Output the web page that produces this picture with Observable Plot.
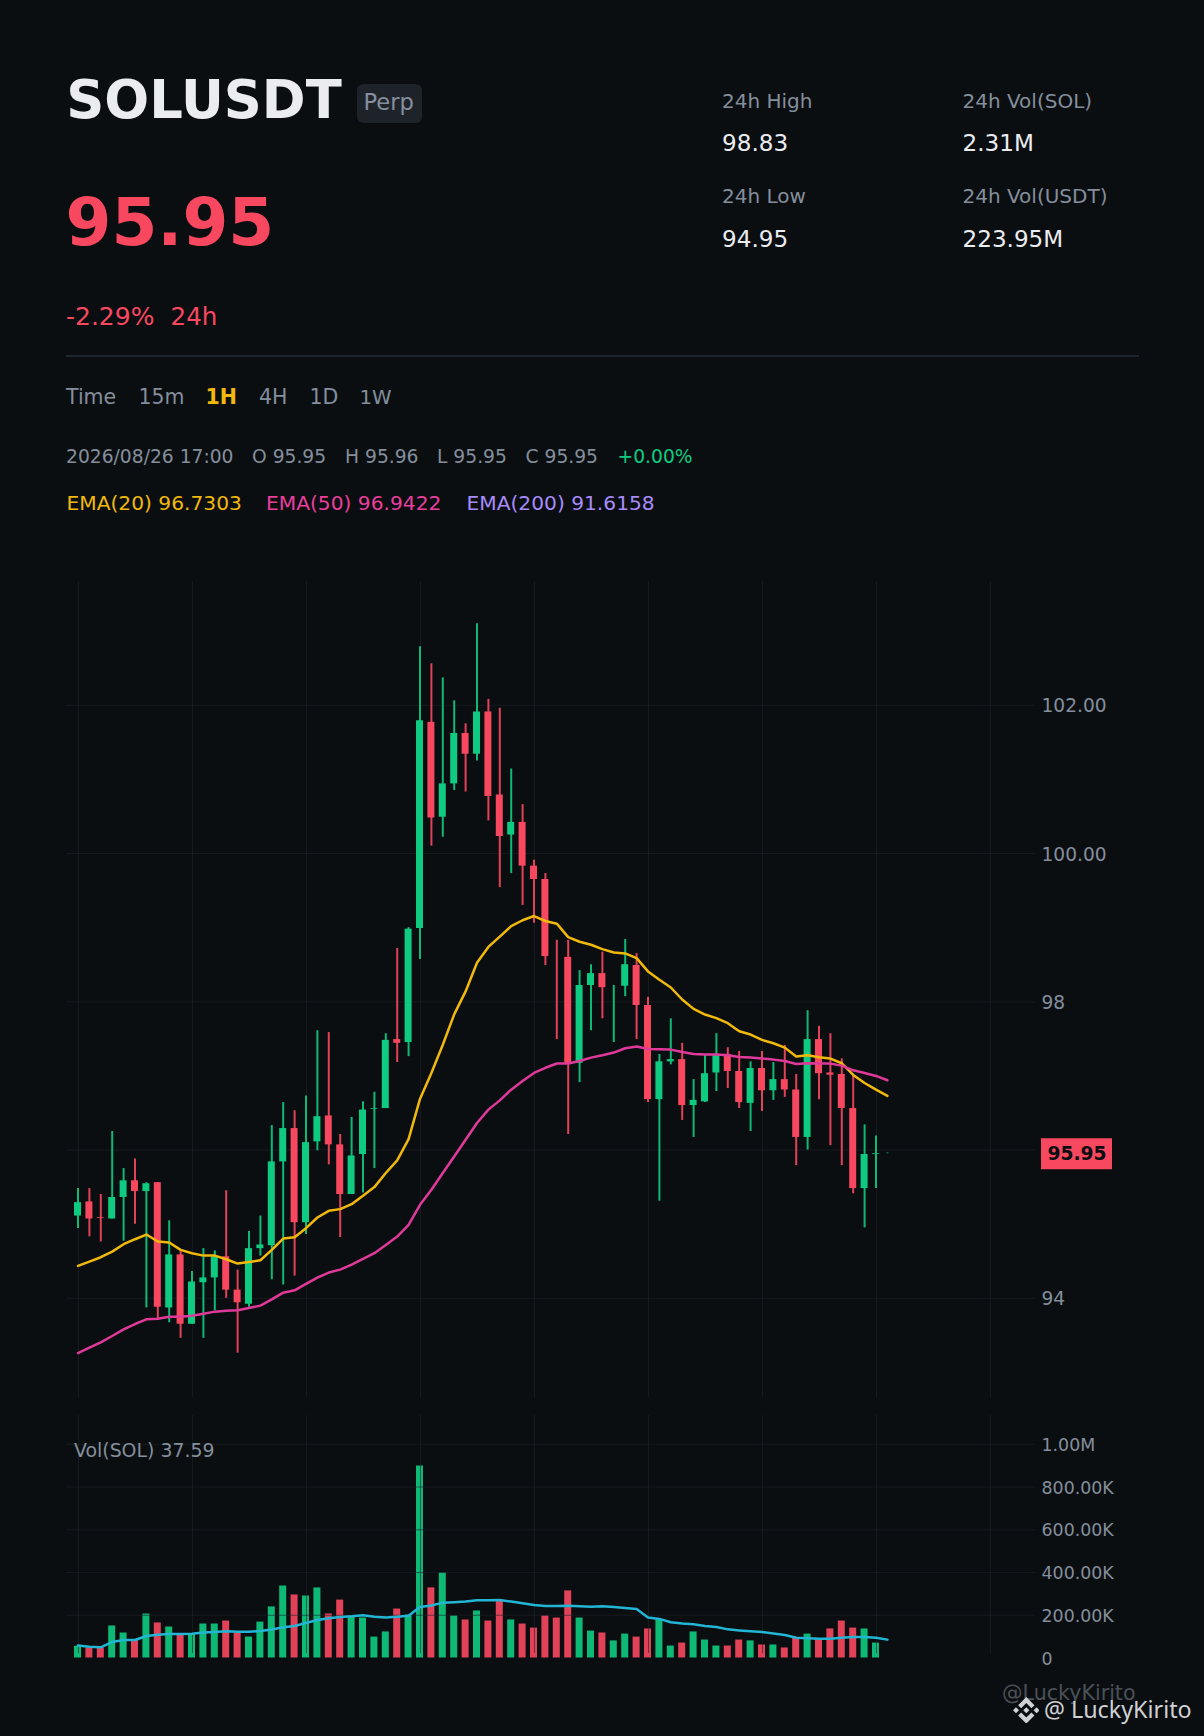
<!DOCTYPE html>
<html><head><meta charset="utf-8">
<script src="https://cdn.jsdelivr.net/npm/d3@7"></script>
<script src="https://cdn.jsdelivr.net/npm/@observablehq/plot@0.6"></script>
<style>
html,body{margin:0;padding:0;background:#0b0e11;}
#page{position:relative;width:1204px;height:1736px;overflow:hidden;background:#0b0e11;font-family:"DejaVu Sans",sans-serif;}
#page .t{position:absolute;white-space:pre;line-height:normal;}
</style></head><body><div id="page"></div>
<script>
const open=[95.11,95.30,95.09,95.07,95.36,95.585,95.44,95.56,93.87,94.585,93.65,94.21,94.275,94.56,94.11,93.92,94.67,94.71,95.84,96.29,95.02,96.11,96.46,96.07,95.40,95.94,96.55,96.56,97.49,97.45,98.99,101.77,100.49,100.94,101.62,101.34,101.91,100.79,100.25,100.42,99.83,99.65,98.61,98.60,97.17,98.22,98.38,98.20,98.21,98.49,97.95,96.68,97.19,97.22,96.60,96.65,97.04,97.29,97.06,96.63,97.10,96.80,96.95,96.81,96.17,97.49,97.04,97.02,96.56,95.48,95.94,95.95];
const close=[95.29,95.07,95.08,95.36,95.585,95.44,95.545,93.88,94.585,93.65,94.22,94.275,94.56,94.11,93.94,94.67,94.72,95.84,96.29,95.02,96.10,96.45,96.07,95.40,95.92,96.54,96.56,97.48,97.44,98.98,101.79,100.48,100.94,101.62,101.34,101.91,100.77,100.23,100.42,99.83,99.65,98.61,98.61,97.17,98.22,98.38,98.19,98.20,98.50,97.95,96.68,97.19,97.22,96.60,96.67,97.03,97.29,97.06,96.64,97.10,96.80,96.95,96.81,96.17,97.49,97.03,97.01,96.56,95.48,95.94,95.95,95.95];
const high=[95.48,95.48,95.40,96.25,95.75,95.88,95.56,95.56,95.045,94.63,94.36,94.67,94.64,95.45,94.38,94.90,95.11,96.33,96.64,96.53,96.73,97.61,97.585,96.21,96.44,96.65,96.78,97.57,98.72,99.00,102.79,102.56,102.37,102.06,101.75,103.10,102.08,101.96,101.14,100.66,99.91,99.73,98.83,98.83,98.42,98.50,98.67,98.22,98.84,98.65,98.06,97.29,97.77,97.44,96.95,97.29,97.57,97.38,97.33,97.19,97.33,97.18,97.41,97.02,97.88,97.67,97.57,97.23,97.00,96.34,96.19,95.96];
const low=[94.94,94.83,94.76,95.07,94.77,95.00,93.87,93.71,93.67,93.46,93.65,93.46,93.83,94.00,93.26,93.88,94.57,94.25,94.18,94.30,94.86,95.99,95.80,94.82,95.40,95.42,95.75,96.56,97.18,97.26,98.57,100.10,100.22,100.85,100.83,101.25,100.44,99.54,99.73,99.30,99.06,98.49,97.49,96.21,96.91,97.61,97.77,97.45,98.07,97.49,96.64,95.31,97.15,96.40,96.17,96.64,96.79,96.83,96.56,96.25,96.52,96.67,96.71,95.79,96.00,96.68,96.06,95.79,95.41,94.95,95.48,95.95];
const up=[1,0,0,1,1,0,1,0,1,0,1,1,1,0,0,1,1,1,1,0,1,1,0,0,1,1,1,1,0,1,1,0,1,1,0,1,0,0,1,0,0,0,0,0,1,1,0,1,1,0,0,1,1,0,1,1,1,0,0,1,0,1,0,0,1,0,0,0,0,1,1,1];
const ema20=[94.437,94.495,94.554,94.63,94.73,94.797,94.86,94.766,94.752,94.653,94.608,94.576,94.576,94.527,94.468,94.491,94.513,94.653,94.806,94.824,94.946,95.09,95.18,95.203,95.27,95.383,95.50,95.69,95.86,96.148,96.69,97.04,97.42,97.83,98.14,98.527,98.74,98.88,99.02,99.10,99.157,99.09,99.054,98.873,98.81,98.77,98.711,98.666,98.653,98.59,98.41,98.297,98.193,98.031,97.905,97.828,97.779,97.711,97.603,97.558,97.486,97.441,97.382,97.261,97.279,97.252,97.234,97.171,97.013,96.905,96.815,96.7303];
const ema50=[93.261,93.333,93.405,93.491,93.581,93.653,93.716,93.725,93.752,93.752,93.766,93.793,93.82,93.833,93.838,93.869,93.901,93.986,94.076,94.108,94.194,94.279,94.347,94.387,94.455,94.531,94.608,94.72,94.833,94.991,95.261,95.464,95.69,95.914,96.14,96.365,96.545,96.67,96.815,96.93,97.04,97.11,97.167,97.167,97.202,97.247,97.279,97.315,97.373,97.396,97.364,97.36,97.355,97.324,97.297,97.288,97.288,97.279,97.256,97.247,97.234,97.22,97.202,97.162,97.171,97.166,97.166,97.139,97.076,97.04,97.0,96.9422];
const volume=[55000,47000,47000,150000,117000,84000,206000,164000,145000,108000,112000,159000,159000,173000,117000,98000,168000,239000,337000,295000,290000,328000,206000,271000,197000,187000,98000,122000,229000,201000,899000,328000,398000,197000,178000,220000,173000,271000,178000,159000,140000,197000,187000,314000,187000,126000,117000,80000,112000,98000,136000,178000,56000,70000,122000,84000,56000,56000,84000,80000,61000,61000,47000,94000,112000,87000,136000,173000,140000,136000,70000,37.59];
const volMA=[58000,53000,50000,75000,84000,84000,103000,109000,112000,112000,114000,119000,122000,125000,123000,123000,126000,133000,144000,150000,164000,178000,186000,192000,195000,200000,193000,190000,193000,198000,239000,246000,259000,261000,264000,270000,270000,271000,264000,256000,248000,243000,243000,245000,242000,240000,242000,239000,234000,229000,190000,183000,167000,161000,158000,150000,145000,134000,129000,125000,122000,115000,108000,95000,92000,90000,90000,95000,98000,98000,95000,86000];
const timeGrid=[0,10,20,30,40,50,60,70,80];
const priceGrid=[94,96,98,100,102];
const priceTicks=[102,100,98,94];
const priceTickLabels=["102.00","100.00","98","94"];
const volTicks=[1000000,800000,600000,400000,200000,0];
const volTickLabels=["1.00M","800.00K","600.00K","400.00K","200.00K","0"];
const lastPrice=95.95;
const lastLabel="95.95";

const GREEN="#0ecb81",RED="#f84860",GRID="#1e2329",AXIS="#848e9c",FONT='"DejaVu Sans",sans-serif';
const candles=open.map((o,i)=>({i,o,c:close[i],h:high[i],l:low[i],up:up[i],v:volume[i],e20:ema20[i],e50:ema50[i],ma:volMA[i]}));
const col=d=>d.up?GREEN:RED;
const xDomain=[0,71], xRange=[77.5,77.5+11.4*71];
const gridX=()=>Plot.ruleX(timeGrid,{x:d=>d,stroke:GRID,strokeOpacity:.6,dx:.5});
const gridY=(vals)=>Plot.ruleY(vals,{y:d=>d,stroke:GRID,strokeOpacity:.6,insetLeft:66,insetRight:169});

// price panel
const priceTop=560;
const pricePlot=Plot.plot({
  width:1204,height:850,marginLeft:0,marginRight:0,marginTop:21,marginBottom:13,
  style:{background:"none",fontFamily:FONT},
  x:{domain:xDomain,range:xRange,axis:null},
  y:{domain:[94,102],range:[1298.3-priceTop-.5,705.3-priceTop-.5],axis:null},
  marks:[
    gridX(),gridY(priceGrid),
    Plot.ruleX(candles,{x:"i",y1:"l",y2:"h",stroke:col,strokeWidth:2,strokeOpacity:.9}),
    Plot.ruleX(candles,{x:"i",y1:"o",y2:"c",stroke:col,strokeWidth:7,dx:-.5}),
    Plot.line(candles,{x:"i",y:"e20",stroke:"#f0b90b",strokeWidth:2.5}),
    Plot.line(candles,{x:"i",y:"e50",stroke:"#e0399a",strokeWidth:2.5}),
    Plot.text(priceTicks,{y:d=>d,text:(d,i)=>priceTickLabels[i],frameAnchor:"left",dx:1041,dy:1,textAnchor:"start",fill:AXIS,fontSize:18.6}),
    Plot.ruleY([lastPrice],{y:d=>d,stroke:RED,strokeWidth:31,insetLeft:1041,insetRight:92}),
    Plot.text([lastPrice],{y:d=>d,text:()=>lastLabel,frameAnchor:"left",dx:1076.5,textAnchor:"middle",fill:"#0b0e11",fontSize:18.7,fontWeight:"bold"})
  ]
});

// volume panel
const volTop=1395;
const volPlot=Plot.plot({
  width:1204,height:280,marginLeft:0,marginRight:0,marginTop:20,marginBottom:22,
  style:{background:"none",fontFamily:FONT},
  x:{domain:xDomain,range:xRange,axis:null},
  y:{domain:[0,1000000],range:[1658-volTop-.5,1444.3-volTop-.5],axis:null},
  marks:[
    Plot.ruleX(candles,{x:"i",y1:0,y2:"v",stroke:col,strokeWidth:7,strokeOpacity:.9,dx:-.5}),
    gridX(),gridY(volTicks.filter(d=>d>0)),
    Plot.line(candles,{x:"i",y:"ma",stroke:"#22b5d4",strokeWidth:2.5}),
    Plot.text(volTicks,{y:d=>d,text:(d,i)=>volTickLabels[i],frameAnchor:"left",dx:1041,dy:1,textAnchor:"start",fill:AXIS,fontSize:17.4})
  ]
});

const page=document.getElementById("page");
[[pricePlot,priceTop],[volPlot,volTop]].forEach(([p,top])=>{
  p.style.position="absolute";p.style.left="0px";p.style.top=top+"px";
  page.append(p);
});

// text, placed by baseline
function label(text,x,base,size,color,opts={}){
  const d=document.createElement("div");
  d.className="t";d.textContent=text;
  d.style.left=x+"px";
  d.style.top=(base-.928*size)+"px";
  d.style.fontSize=size+"px";
  d.style.color=color;
  if(opts.weight)d.style.fontWeight=opts.weight;
  if(opts.family){d.style.fontFamily=opts.family;d.style.top=(base-(opts.asc||.928)*size)+"px";}
  page.append(d);
}
const WHITE="#eaecef";
label("SOLUSDT",66.3,118.3,52.8,WHITE,{weight:"bold"});
const badge=document.createElement("div");
badge.style.cssText="position:absolute;left:356.7px;top:84.3px;width:65.6px;height:38.4px;background:#1e2329;border-radius:6px;";
page.append(badge);
label("Perp",363.5,110,22.6,AXIS);
label("95.95",65.5,245.5,66,RED,{weight:"bold"});
label("-2.29%",66,325,25,RED);
label("24h",170.5,325,24.6,RED);
label("24h High",722,107.3,20,AXIS);
label("98.83",722,151,23.1,WHITE);
label("24h Low",722,202.7,20,AXIS);
label("94.95",722,247,23.1,WHITE);
label("24h Vol(SOL)",962.5,107.3,20,AXIS);
label("2.31M",962.5,151,23.1,WHITE);
label("24h Vol(USDT)",962.5,202.7,20,AXIS);
label("223.95M",962.5,247,23.1,WHITE);
const rule=document.createElement("div");
rule.style.cssText="position:absolute;left:65.5px;top:355px;width:1073.5px;height:1.5px;background:#1e2330;";
page.append(rule);
label("Time",66,404,20.5,AXIS);
label("15m",138.5,404,20.5,AXIS);
label("1H",205.5,404,20.5,"#f0b90b",{weight:"bold"});
label("4H",259,404,20.5,AXIS);
label("1D",309.5,404,20.5,AXIS);
label("1W",359.5,404,19.8,AXIS);
label("2026/08/26 17:00",66,463,18.7,AXIS);
label("O 95.95",252,463,18.7,AXIS);
label("H 95.96",345,463,18.7,AXIS);
label("L 95.95",437,463,18.7,AXIS);
label("C 95.95",525.5,463,18.7,AXIS);
label("+0.00%",617.5,463,18.7,GREEN);
label("EMA(20) 96.7303",66.5,510,20.2,"#f0b90b");
label("EMA(50) 96.9422",266,510,20.2,"#e83e9c");
label("EMA(200) 91.6158",466.5,510,20.2,"#a78bfa");
label("Vol(SOL) 37.59",74,1456.7,18.9,AXIS);
label("@LuckyKirito",1002,1700,20.6,"#4b5058");
label("@ LuckyKirito",1044,1718,23.3,"#cfd1d4",{family:'"Noto Sans",sans-serif',asc:1.069});
const logo=document.createElementNS("http://www.w3.org/2000/svg","svg");
logo.setAttribute("viewBox","0 0 126.61 126.61");
logo.setAttribute("style","position:absolute;left:1012.7px;top:1696.7px;width:26.6px;height:26.6px;");
["38.73,53.2 63.31,28.62 87.9,53.21 102.2,38.91 63.31,0 24.42,38.89","0,63.31 14.3,49.01 28.6,63.31 14.3,77.61","38.73,73.41 63.31,98 87.9,73.41 102.21,87.7 63.31,126.61 24.42,87.73","98.01,63.31 112.31,49 126.61,63.3 112.31,77.61","77.83,63.3 63.31,48.78 48.8,63.28 63.31,77.83"].forEach(p=>{
  const g=document.createElementNS("http://www.w3.org/2000/svg","polygon");
  g.setAttribute("points",p);g.setAttribute("fill","#cfd1d4");logo.append(g);
});
page.append(logo);
</script></body></html>
